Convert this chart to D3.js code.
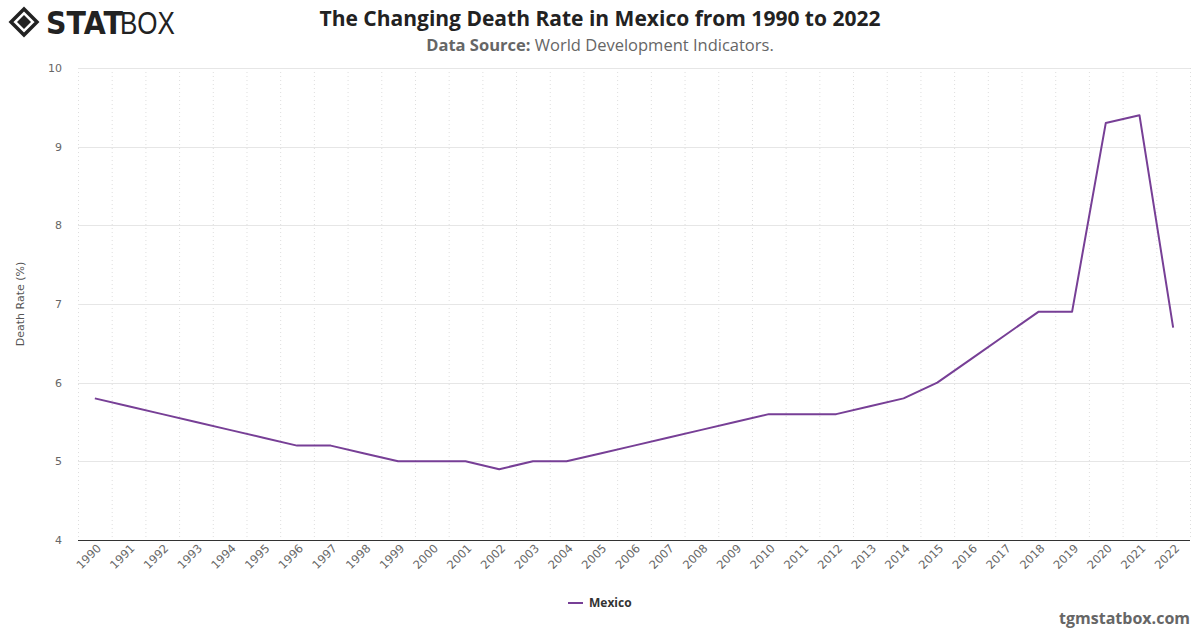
<!DOCTYPE html>
<html>
<head>
<meta charset="utf-8">
<script src="https://cdn.jsdelivr.net/npm/d3@7"></script>
<style>
  body { margin: 0; background: #fff; }
  svg { display: block; font-family: "Open Sans", sans-serif; }
</style>
</head>
<body>
<div id="container"></div>
<script>
// data
const years = d3.range(1990, 2023).map(String)
const deathRate = [5.8, 5.7, 5.6, 5.5, 5.4, 5.3, 5.2, 5.2, 5.1, 5.0,
  5.0, 5.0, 4.9, 5.0, 5.0, 5.1, 5.2, 5.3, 5.4, 5.5,
  5.6, 5.6, 5.6, 5.7, 5.8, 6.0, 6.3, 6.6, 6.9, 6.9,
  9.3, 9.4, 6.7]
const yTicks = [4, 5, 6, 7, 8, 9, 10]
const seriesName = "Mexico"

const width = 1200, height = 630
const margin = { top: 68, right: 10, bottom: 90, left: 78 }
const lineColor = "#773f96"

const svg = d3.select("#container").append("svg")
  .attr("width", width).attr("height", height)

const x = d3.scaleBand().domain(years).range([margin.left, width - margin.right])
const y = d3.scaleLinear().domain([4, 10]).range([height - margin.bottom, margin.top])

// vertical dotted grid at band edges
svg.append("g").selectAll("line")
  .data(years.concat(["end"]))
  .join("line")
  .attr("x1", (d, i) => margin.left + i * x.bandwidth() + 0.5)
  .attr("x2", (d, i) => margin.left + i * x.bandwidth() + 0.5)
  .attr("y1", margin.top)
  .attr("y2", y(4))
  .attr("stroke", "#dedede")
  .attr("stroke-dasharray", "1,3")

// horizontal grid
svg.append("g").selectAll("line")
  .data(yTicks.filter(d => d > 4))
  .join("line")
  .attr("x1", margin.left).attr("x2", width - margin.right)
  .attr("y1", d => Math.round(y(d)) + 0.5).attr("y2", d => Math.round(y(d)) + 0.5)
  .attr("stroke", "#e6e6e6")

// y tick labels
svg.append("g").selectAll("text")
  .data(yTicks)
  .join("text")
  .attr("x", 62).attr("y", d => y(d) + 4)
  .attr("text-anchor", "end")
  .style("font-family", "DejaVu Sans, sans-serif")
  .style("font-size", "11px")
  .attr("fill", "#666")
  .text(d => d)

// x axis line
svg.append("line")
  .attr("x1", margin.left).attr("x2", width - margin.right)
  .attr("y1", y(4) + 0.5).attr("y2", y(4) + 0.5)
  .attr("stroke", "#333").attr("stroke-width", 1)

// x tick labels, rotated
svg.append("g").selectAll("text")
  .data(years)
  .join("text")
  .attr("transform", d => `translate(${x(d) + x.bandwidth() / 2 + 7},${y(4) + 9}) rotate(-45)`)
  .attr("text-anchor", "end")
  .style("font-family", "DejaVu Sans, sans-serif")
  .style("font-size", "11.5px")
  .attr("fill", "#666")
  .text(d => d)

// y axis title
svg.append("text")
  .attr("transform", `translate(24,${(margin.top + y(4)) / 2}) rotate(-90)`)
  .attr("text-anchor", "middle")
  .style("font-family", "DejaVu Sans, sans-serif")
  .style("font-size", "11px")
  .attr("fill", "#555")
  .text("Death Rate (%)")

// the line
const line = d3.line()
  .x((d, i) => x(years[i]) + x.bandwidth() / 2)
  .y(d => y(d))
svg.append("path")
  .datum(deathRate)
  .attr("d", line)
  .attr("fill", "none")
  .attr("stroke", lineColor)
  .attr("stroke-width", 2)
  .attr("stroke-linejoin", "round")

// title + subtitle
svg.append("text")
  .attr("x", 600).attr("y", 26)
  .attr("text-anchor", "middle")
  .style("font-size", "21px").style("font-weight", "bold")
  .attr("fill", "#222")
  .text("The Changing Death Rate in Mexico from 1990 to 2022")

const sub = svg.append("text")
  .attr("x", 600).attr("y", 51)
  .attr("text-anchor", "middle")
  .style("font-size", "16.5px")
  .attr("fill", "#666")
sub.append("tspan").style("font-weight", "bold").text("Data Source:")
sub.append("tspan").text(" World Development Indicators.")

// legend
svg.append("line")
  .attr("x1", 568).attr("x2", 583).attr("y1", 603).attr("y2", 603)
  .attr("stroke", lineColor).attr("stroke-width", 2)
svg.append("text")
  .attr("x", 589).attr("y", 607)
  .style("font-size", "12px").style("font-weight", "bold")
  .attr("fill", "#333")
  .text(seriesName)

// watermark
svg.append("text")
  .attr("x", 1190).attr("y", 624)
  .attr("text-anchor", "end")
  .style("font-size", "16px").style("font-weight", "bold")
  .attr("fill", "#666")
  .text("tgmstatbox.com")

// logo
const logo = svg.append("g").attr("transform", "translate(10,8)")
logo.append("path")
  .attr("d", "M14,1 L27,14 L14,27 L1,14 Z")
  .attr("fill", "none").attr("stroke", "#222").attr("stroke-width", 3.5)
logo.append("path")
  .attr("d", "M14,7 L21,14 L14,21 L7,14 Z")
  .attr("fill", "#222")
logo.append("g")
  .attr("transform", "translate(36,26) scale(1,1.12)")
  .append("text")
  .style("font-family", "DejaVu Sans, sans-serif")
  .style("font-size", "28.5px").style("font-weight", "900")
  .attr("fill", "#222")
  .text("STAT")
logo.append("g")
  .attr("transform", "translate(110,26) scale(1,1.24)")
  .append("text")
  .style("font-family", "Liberation Sans, sans-serif")
  .style("font-size", "26px")
  .attr("fill", "#222")
  .text("BOX")
</script>
</body>
</html>
